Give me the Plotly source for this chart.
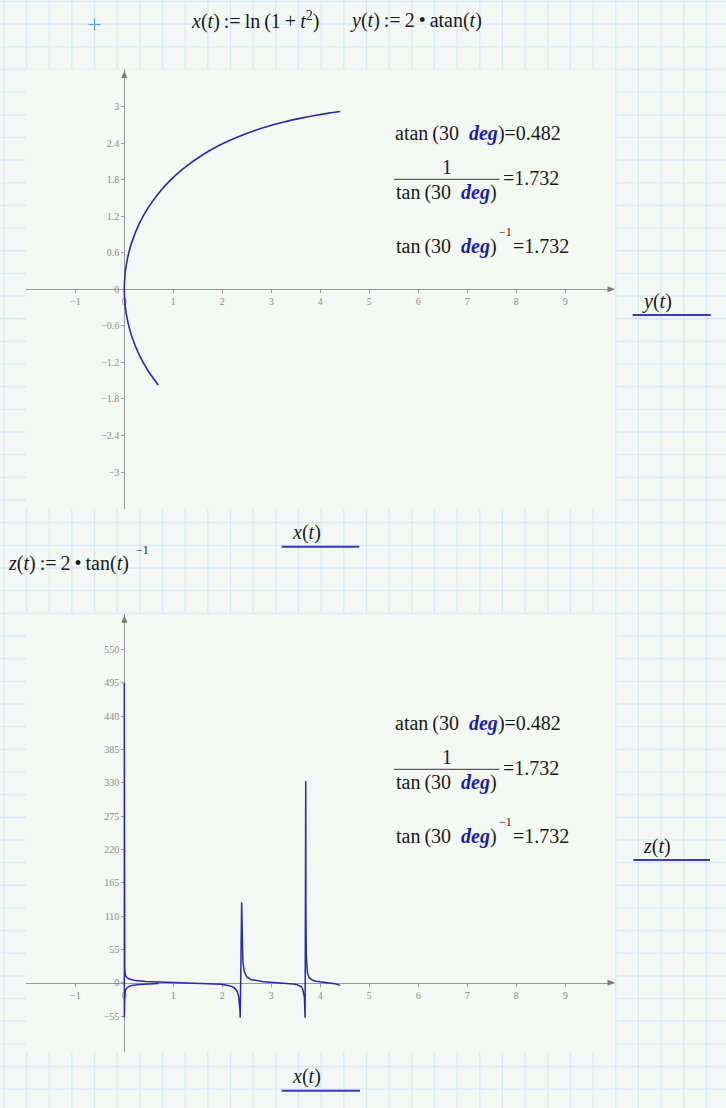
import plotly.graph_objects as go

# curve 1: x(t)=ln(1+t^2) against y(t)=2*atan(t)
x_vals1 = [0.693, 0.495, 0.307, 0.148, 0.086, 0.039, 0.010, 0.0, 0.010, 0.039, 0.086,
           0.148, 0.307, 0.495, 0.693, 0.941, 1.179, 1.609, 1.981, 2.303, 2.833,
           3.258, 3.611, 3.912, 4.174, 4.407]
y_vals1 = [-1.571, -1.349, -1.081, -0.761, -0.583, -0.395, -0.199, 0.0, 0.199, 0.395, 0.583,
           0.761, 1.081, 1.349, 1.571, 1.792, 1.966, 2.214, 2.381, 2.498, 2.652,
           2.747, 2.811, 2.858, 2.893, 2.920]

# curve 2: x(t) against z(t)=2/tan(t)
x_vals2 = [0.693, 0.495, 0.307, 0.148, 0.086, 0.039, 0.022, 0.010, 0.0036, 0.0012,
           0.0, 0.0001, 0.0009, 0.0036, 0.010, 0.022, 0.039, 0.086, 0.223, 0.446,
           0.693, 0.941, 1.179, 1.402, 1.609, 1.802, 1.981, 2.147, 2.242, 2.303,
           2.332, 2.362, 2.366,
           2.395, 2.402, 2.420, 2.448, 2.503, 2.584, 2.712, 2.833, 3.056, 3.160,
           3.258, 3.352, 3.442, 3.528, 3.611, 3.643, 3.675, 3.690,
           3.703, 3.706, 3.715, 3.737, 3.767, 3.841, 3.912, 4.047, 4.174, 4.294, 4.407]
z_vals2 = [-1.28, -1.94, -2.92, -4.73, -6.47, -9.87, -13.2, -19.9, -33.3, -57.5,
           495, 200, 66.7, 33.3, 19.9, 13.2, 9.87, 6.47, 3.66, 2.15,
           1.28, 0.67, 0.14, -0.36, -0.92, -1.62, -2.68, -4.84, -8.24, -14.0,
           -21.8, -48.1, -57.8,
           133, 70.4, 34.2, 18.4, 9.46, 5.34, 2.87, 1.73, 0.43, -0.08,
           -0.59, -1.20, -2.01, -3.39, -6.87, -10.8, -24.0, -57.8,
           333, 119, 42.7, 17.1, 9.08, 3.97, 2.30, 0.76, -0.29, -1.51, -4.42]

x_ticks = [-1, 0, 1, 2, 3, 4, 5, 6, 7, 8, 9]
x_ticktext = ['−1', '0', '1', '2', '3', '4', '5', '6', '7', '8', '9']
y1_ticks = [-3, -2.4, -1.8, -1.2, -0.6, 0, 0.6, 1.2, 1.8, 2.4, 3]
y1_ticktext = ['−3', '−2.4', '−1.8', '−1.2', '−0.6', '0', '0.6', '1.2', '1.8', '2.4', '3']
y2_ticks = [-55, 0, 55, 110, 165, 220, 275, 330, 385, 440, 495, 550]
y2_ticktext = ['−55', '0', '55', '110', '165', '220', '275', '330', '385', '440', '495', '550']

W, H = 726, 1108
BG = '#f4f8f5'
GRID = '#d6e8f7'
CURVE = '#2b2ba6'
AXIS = '#9a9a9a'
SERIF = 'Liberation Serif, DejaVu Serif, serif'
TS = '\u2009'   # thin space, Mathcad puts air around operators
DEG = '<b><i><span style="color:#1e1ea3">deg</span></i></b>'


def fx(p):
    return p / W


def fy(p):
    return 1 - p / H


fig = go.Figure()
fig.add_trace(go.Scatter(x=x_vals1, y=y_vals1, mode='lines', xaxis='x', yaxis='y',
                         line=dict(color=CURVE, width=1.6, shape='spline', smoothing=0.8),
                         hoverinfo='skip', showlegend=False))
fig.add_trace(go.Scatter(x=x_vals2, y=z_vals2, mode='lines', xaxis='x2', yaxis='y2',
                         line=dict(color=CURVE, width=1.5),
                         hoverinfo='skip', showlegend=False))

shapes = []
# worksheet grid
k = 0
while 3.9 + 22.66 * k < W:
    p = 3.9 + 22.66 * k
    shapes.append(dict(type='line', xref='paper', yref='paper', x0=fx(p), x1=fx(p), y0=0, y1=1,
                       line=dict(color=GRID, width=1.3), layer='below'))
    k += 1
k = 0
while 1.5 + 22.66 * k < H:
    p = 1.5 + 22.66 * k
    shapes.append(dict(type='line', xref='paper', yref='paper', x0=0, x1=1, y0=fy(p), y1=fy(p),
                       line=dict(color=GRID, width=1.3), layer='below'))
    k += 1

# plot panels
for top, bot in [(69.3, 509.3), (614, 1052.5)]:
    shapes.append(dict(type='rect', xref='paper', yref='paper', x0=fx(26), x1=fx(615),
                       y0=fy(bot), y1=fy(top), fillcolor=BG, line=dict(width=0), layer='below'))


def tri(pts):
    return 'M ' + ' L '.join('%f %f' % (fx(a), fy(b)) for a, b in pts) + ' Z'


# axis arrow heads
for y0 in [289.3, 982.7]:
    shapes.append(dict(type='path', xref='paper', yref='paper',
                       path=tri([(615, y0), (607.5, y0 - 3), (607.5, y0 + 3)]),
                       fillcolor='#7a7a7a', line=dict(width=0)))
for ytop in [70.5, 615.2]:
    shapes.append(dict(type='path', xref='paper', yref='paper',
                       path=tri([(124.3, ytop), (121.3, ytop + 7.5), (127.3, ytop + 7.5)]),
                       fillcolor='#7a7a7a', line=dict(width=0)))

# fraction bars
for y0 in [179.3, 769.3]:
    shapes.append(dict(type='line', xref='paper', yref='paper', x0=fx(394), x1=fx(499.3),
                       y0=fy(y0), y1=fy(y0), line=dict(color='#333333', width=1)))

# underlines of the axis labels
for a, b, yy in [(632.7, 710.7, 315), (281.7, 359.3, 546.7), (633.3, 710, 860), (281.7, 360, 1090.7)]:
    shapes.append(dict(type='line', xref='paper', yref='paper', x0=fx(a), x1=fx(b),
                       y0=fy(yy), y1=fy(yy), line=dict(color='#3a3ab8', width=2)))

# blue cursor
shapes.append(dict(type='line', xref='paper', yref='paper', x0=fx(88.5), x1=fx(100.5),
                   y0=fy(24.5), y1=fy(24.5), line=dict(color='#4da3f0', width=1.2)))
shapes.append(dict(type='line', xref='paper', yref='paper', x0=fx(94.5), x1=fx(94.5),
                   y0=fy(18.5), y1=fy(30.5), line=dict(color='#4da3f0', width=1.2)))

annotations = []


def note(text, x, y, size=20, anchor='left'):
    annotations.append(dict(text=text, xref='paper', yref='paper', x=fx(x), y=fy(y),
                            xanchor=anchor, yanchor='middle', showarrow=False,
                            font=dict(family=SERIF, size=size, color='#1a1a1a')))


note('<i>x</i>(<i>t</i>)' + TS + ':=' + TS + 'ln' + TS + '(1' + TS + '+' + TS + '<i>t</i><sup>2</sup>)',
     189, 20.7)
note('<i>y</i>(<i>t</i>)' + TS + ':=' + TS + '2' + TS + '•' + TS + 'atan(<i>t</i>)', 348, 20.7)
note('<i>z</i>(<i>t</i>)' + TS + ':=' + TS + '2' + TS + '•' + TS + 'tan(<i>t</i>)', 6, 563.3)
note('−1', 134, 550, 12)

for dy in [0, 590]:
    note('atan' + TS + '(30\u2002' + DEG + ')=0.482', 393, 133.3 + dy)
    note('1', 446.7, 166.5 + dy, anchor='center')
    note('tan' + TS + '(30\u2002' + DEG + ')', 446.5, 192.7 + dy, anchor='center')
    note('=1.732', 500.5, 178.3 + dy)
    note('tan' + TS + '(30\u2002' + DEG + ')', 394, 246 + dy)
    note('−1', 497.5, 231.7 + dy, 12)
    note('=1.732', 510.5, 246 + dy)

note('<i>y</i>(<i>t</i>)', 656.5, 301.7, 20, 'center')
note('<i>x</i>(<i>t</i>)', 306.3, 532.7, 20, 'center')
note('<i>z</i>(<i>t</i>)', 657.3, 846.7, 20, 'center')
note('<i>x</i>(<i>t</i>)', 306, 1076, 20, 'center')

axis_common = dict(showgrid=False, zeroline=False, showline=True, linecolor=AXIS, linewidth=1,
                   ticks='outside', ticklen=3, tickwidth=1, tickcolor=AXIS,
                   tickfont=dict(family=SERIF, size=10, color='#8a8a8a'),
                   anchor='free', fixedrange=True, layer='below traces')

fig.update_layout(
    width=W, height=H, autosize=False,
    margin=dict(l=0, r=0, t=0, b=0, pad=0),
    paper_bgcolor=BG, plot_bgcolor='rgba(0,0,0,0)',
    showlegend=False,
    xaxis=dict(domain=[fx(26.3), fx(614.3)], range=[-2, 10], position=fy(289.3),
               tickmode='array', tickvals=x_ticks, ticktext=x_ticktext, **axis_common),
    yaxis=dict(domain=[fy(509.3), fy(69.3)], range=[-3.6125, 3.6125], position=fx(124.3),
               tickmode='array', tickvals=y1_ticks, ticktext=y1_ticktext, **axis_common),
    xaxis2=dict(domain=[fx(26.3), fx(614.3)], range=[-2, 10], position=fy(982.7),
                tickmode='array', tickvals=x_ticks, ticktext=x_ticktext, **axis_common),
    yaxis2=dict(domain=[fy(1052.3), fy(614)], range=[-114.9, 608.9], position=fx(124.3),
                tickmode='array', tickvals=y2_ticks, ticktext=y2_ticktext, **axis_common),
    shapes=shapes,
    annotations=annotations,
)

fig.write_html("out.html", config={'displayModeBar': False},
               post_script="document.body.style.margin='0';document.body.style.overflow='hidden';")
